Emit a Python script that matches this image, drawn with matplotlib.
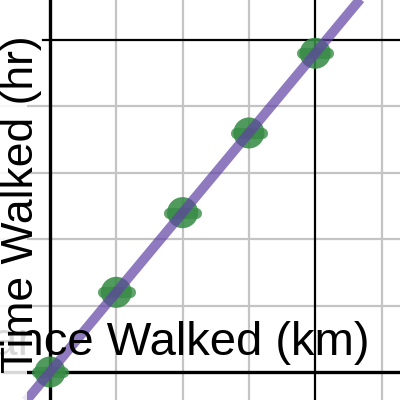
import numpy as np
import matplotlib
matplotlib.use("Agg")
import matplotlib.pyplot as plt
from matplotlib.patches import Rectangle

# data: distance (km) vs time (hr)
distance = [0, 1, 2, 3, 4]
time_hr = [0, 1.2, 2.4, 3.6, 4.8]
x_label = "Distance Walked (km)"
y_label = "Time Walked (hr)"

grid_x = [1, 2, 3, 5]
grid_y = [1, 2, 3, 4]
major_x = 4
major_y = 5

plt.rcParams['font.family'] = ['Liberation Sans', 'DejaVu Sans']

fig = plt.figure(figsize=(4, 4), dpi=100)
ax = fig.add_axes([0, 0, 1, 1])
ax.set_xlim(-50 / 66.3, 350 / 66.3)
ax.set_ylim(-28 / 66.4, 372 / 66.4)
ax.axis('off')

# labels (x label runs off the left edge, y label sits over it)
fig.text(0.925, 0.1125, x_label, fontsize=34, ha='right', va='baseline', zorder=1)
# faded strip behind the y label hides the start of the x label
fig.patches.append(Rectangle((0, 0), 27 / 400, 1, transform=fig.transFigure,
                             facecolor='white', alpha=0.85, edgecolor='none',
                             zorder=1.5))
fig.text(0.083, 0.0675, y_label, fontsize=32, rotation=90, rotation_mode='anchor',
         ha='left', va='baseline', zorder=2)

# grid
for gx in grid_x:
    ax.axvline(gx, color='#c4c4c4', lw=1.6, zorder=3)
for gy in grid_y:
    ax.axhline(gy, color='#c4c4c4', lw=1.6, zorder=3)
ax.axvline(major_x, color='black', lw=1.6, zorder=4)
ax.axhline(major_y, xmin=43 / 400, color='black', lw=1.6, zorder=4)

# axes
ax.axhline(0, xmin=3 / 400, color='black', lw=2.4, zorder=4)
ax.axvline(0, color='black', lw=2.4, zorder=4)

# points
ax.scatter(distance, time_hr, s=55, color='#fa7e19', zorder=5)
eb = ax.errorbar(distance, time_hr, xerr=0.2, fmt='none', ecolor='#388c46',
                 elinewidth=8, alpha=0.8, zorder=6)
for c in eb.lines[2]:
    c.set_capstyle('round')
ax.scatter(distance, time_hr, s=500, color='#388c46', alpha=0.88,
           edgecolors='none', zorder=7)

# fitted line across the view
k, b = np.polyfit(distance, time_hr, 1)
xs = np.array(ax.get_xlim())
ax.plot(xs, k * xs + b, color='#6042a6', alpha=0.7, lw=7,
        solid_capstyle='butt', zorder=8)

fig.savefig('out.png', dpi=100)
